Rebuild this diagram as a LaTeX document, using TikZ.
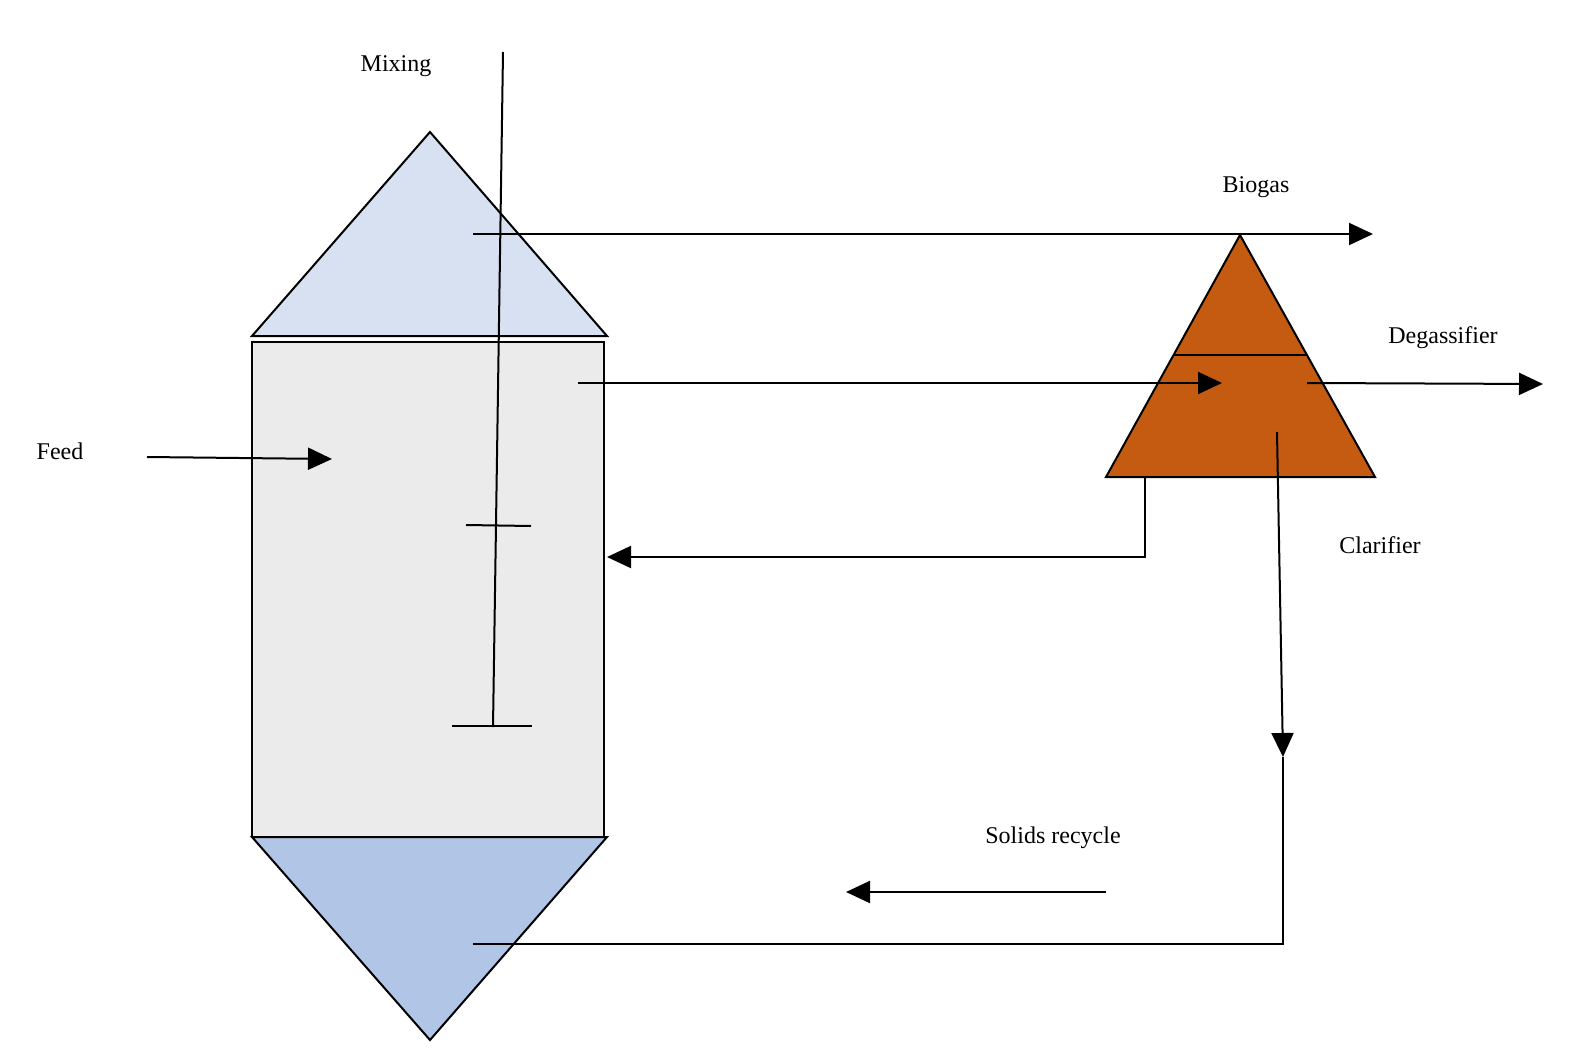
\documentclass[tikz,border=0pt]{standalone}
\usepackage{fontspec}
\setmainfont{Liberation Serif}
\usetikzlibrary{arrows.meta}
\definecolor{topblue}{HTML}{D7E1F1}
\definecolor{botblue}{HTML}{B1C5E7}
\definecolor{bodygrey}{HTML}{EBEBEB}
\definecolor{clar}{HTML}{C55A11}
\begin{document}
\begin{tikzpicture}[x=1pt,y=-1pt,
  ln/.style={line width=2pt,black},
  arr/.style={ln,-{Triangle[length=24pt,width=22pt]}},
  lbl/.style={font=\fontsize{24}{28}\selectfont,inner sep=0pt}]
\useasboundingbox (0,0) rectangle (1588,1051);
% vessel
\draw[ln,fill=topblue] (252,336) -- (430,132) -- (607,336) -- cycle;
\draw[ln,fill=bodygrey] (252,342) rectangle (604,837);
\draw[ln,fill=botblue] (252,837) -- (607,837) -- (430,1040) -- cycle;
% mixer
\coordinate (mtop) at (503,52);
\coordinate (mbot) at (493,727);
\draw[ln] (mtop) -- (mbot);
\draw[ln] (466,525) -- (531,526);
\draw[ln] (452,726) -- (532,726);
\node[lbl] (mix) at (396,66) {Mixing};
% clarifier
\draw[ln,fill=clar] (1106,477) -- (1240,235) -- (1375,477) -- cycle;
\draw[ln] (1173,355) -- (1307,355);
\node[lbl] (clarl) at (1380,545) {Clarifier};
% biogas
\coordinate (bg1) at (473,234); \coordinate (bg2) at (1373,234);
\draw[arr] (bg1) -- (bg2);
\node[lbl] (bgl) at (1256,187) {Biogas};
% to clarifier
\coordinate (ef1) at (578,383); \coordinate (ef2) at (1222,383);
\draw[arr] (ef1) -- (ef2);
% degassifier
\coordinate (dg1) at (1307,383); \coordinate (dg2) at (1543,384);
\draw[arr] (dg1) -- (dg2);
\node[lbl] (dgl) at (1443,338) {Degassifier};
% feed
\node[lbl] (feed) at (60,451) {Feed};
\coordinate (f1) at (147,457); \coordinate (f2) at (332,459);
\draw[arr] (f1) -- (f2);
% return
\coordinate (r1) at (1145,477); \coordinate (r2) at (607,557);
\draw[arr] (r1) |- (r2);
% sludge
\coordinate (s1) at (1277,432); \coordinate (s2) at (1283,757);
\draw[arr] (s1) -- (s2);
\coordinate (s3) at (473,944);
\draw[ln] (s2) |- (s3);
\node[lbl] (srl) at (1053,838) {Solids recycle};
\coordinate (sr1) at (1106,892); \coordinate (sr2) at (846,892);
\draw[arr] (sr1) -- (sr2);
\end{tikzpicture}
\end{document}
